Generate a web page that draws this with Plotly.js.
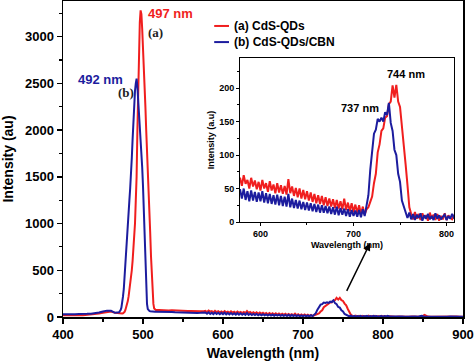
<!DOCTYPE html>
<html>
<head>
<meta charset="utf-8">
<script src="https://cdn.plot.ly/plotly-3.0.1.min.js"></script>
<style>
  html, body { margin: 0; padding: 0; background: #fff; }
  #chart { width: 474px; height: 361px; }
</style>
</head>
<body>
<div id="chart"></div>
<script>
// Wavelength (nm) sample positions
const wavelength = [
  400,405,410,415,420,425,430,435,440,445,450,455,460,465,470,
  471,472,473,474,475,476,477,478,479,480,481,482,483,484,485,486,487,488,489,490,
  491,492,493,494,495,496,497,498,499,500,501,502,503,504,505,506,507,508,509,510,
  511,512,513,514,515,
  516,520,524,528,532,536,540,544,548,552,556,560,564,568,572,576,
  578,580,582,584,586,588,590,592,594,596,598,600,602,604,606,608,610,612,614,616,
  618,620,622,624,626,628,630,632,634,636,638,640,642,644,646,648,650,652,654,656,
  658,660,662,664,666,668,670,672,674,676,678,680,682,684,686,688,690,692,694,696,
  698,700,702,704,706,708,710,712,714,
  716,718,720,722,724,726,728,730,732,734,736,738,740,742,744,746,748,750,752,754,
  756,758,760,762,764,766,768,770,772,774,776,778,780,782,784,786,788,790,792,794,
  796,798,800,802,804,806,808,
  812,816,820,824,828,832,836,840,844,848,852,856,860,864,868,872,876,880,884,888,
  892,896,900
];

// (a) CdS-QDs intensity (au)
const cdsQDs = [
  18,20,17,20,22,20,24,26,30,38,46,55,58,45,38,
  36,35,36,38,40,45,55,75,100,130,170,220,280,350,420,500,600,720,850,1000,
  1250,1500,2000,2500,2850,3150,3280,3240,3080,2900,2700,2500,2250,2000,1800,1600,1450,1200,900,650,
  450,260,140,90,75,
  74,76,72,74,70,71,68,69,66,67,64,65,62,63,61,62,
  66,54,70,57,63,50,66,53,62,49,60,47,63,50,58,45,61,47,56,43,
  58,44,55,42,54,41,64,43,53,39,51,37,50,35,48,34,46,32,44,30,
  42,28,40,27,39,25,37,24,35,23,34,21,33,20,31,19,35,18,29,16,
  28,15,26,14,25,12,23,11,19,
  22,30,38,58,72,104,116,136,140,156,158,176,180,204,186,205,180,172,144,124,
  86,55,22,12,4,15,5,12,3,13,6,10,2,14,5,11,3,12,2,9,
  4,13,3,10,6,4,9,
  5,4,6,3,5,4,6,3,5,4,22,5,3,4,5,3,4,5,3,4,
  5,3,4
];

// (b) CdS-QDs/CBN intensity (au)
const cdsQDsCBN = [
  30,28,32,30,33,31,34,36,40,48,58,68,66,45,50,
  60,75,100,150,220,300,420,550,680,800,950,1100,1250,1380,1500,1700,1900,2100,2300,2420,
  2500,2550,2460,2330,2200,2050,1900,1750,1600,1400,1150,900,550,280,140,85,70,65,62,60,
  60,58,60,58,57,
  57,58,55,56,53,54,52,50,51,48,49,46,47,44,45,43,
  49,35,50,33,46,31,47,32,45,30,44,31,46,29,43,28,42,27,40,26,
  41,25,39,24,38,23,42,22,35,21,33,20,32,19,30,18,29,17,28,16,
  27,15,26,14,25,14,24,13,23,12,22,11,23,10,21,11,20,9,19,8,
  18,9,17,8,18,7,19,9,22,
  40,78,104,132,138,154,150,156,150,164,160,178,148,136,108,100,72,60,32,22,
  12,6,14,4,12,3,11,6,13,2,10,5,12,4,9,3,13,5,10,4,
  8,11,3,9,5,12,6,
  4,6,3,5,4,6,3,5,4,14,4,3,5,4,3,5,4,3,5,4,
  3,5,4
];

const seriesNames = ['(a) CdS-QDs', '(b) CdS-QDs/CBN'];
const peakLabels = ['497 nm', '492 nm', '744 nm', '737 nm'];

const RED = '#f01e1e';
const BLUE = '#1c1c9e';
const COLORS = [RED, BLUE];
const FONT = 'Liberation Sans, Arial, Helvetica, sans-serif';

const traces = [
  { x: wavelength, y: cdsQDs, name: seriesNames[0], type: 'scatter', mode: 'lines',
    line: { color: RED, width: 2 }, xaxis: 'x', yaxis: 'y' },
  { x: wavelength, y: cdsQDsCBN, name: seriesNames[1], type: 'scatter', mode: 'lines',
    line: { color: BLUE, width: 2 }, xaxis: 'x', yaxis: 'y' },
  { x: wavelength, y: cdsQDs, name: seriesNames[0], type: 'scatter', mode: 'lines',
    line: { color: RED, width: 2 }, xaxis: 'x2', yaxis: 'y2' },
  { x: wavelength, y: cdsQDsCBN, name: seriesNames[1], type: 'scatter', mode: 'lines',
    line: { color: BLUE, width: 2 }, xaxis: 'x2', yaxis: 'y2' }
];

const bold = (size) => ({ family: FONT, size: size, color: '#000', weight: 'bold' });

// Compact legend (short line samples, tight row spacing) drawn in paper space
const legendRowsY = [0.921, 0.870];
const legendShapes = seriesNames.map((n, i) => ({
  type: 'line', xref: 'paper', yref: 'paper',
  x0: 0.378, x1: 0.415, y0: legendRowsY[i], y1: legendRowsY[i],
  line: { color: COLORS[i], width: 2 }
}));
const legendTexts = seriesNames.map((n, i) => ({
  xref: 'paper', yref: 'paper', x: 0.4225, y: legendRowsY[i],
  xanchor: 'left', yanchor: 'middle', text: n, showarrow: false, font: bold(12)
}));

const layout = {
  width: 474, height: 361,
  margin: { l: 63, r: 11, t: 1, b: 44 },
  paper_bgcolor: '#fff', plot_bgcolor: '#fff',
  showlegend: false,
  xaxis: {
    domain: [0, 1], range: [400, 900], dtick: 100, tick0: 400,
    ticks: 'outside', ticklen: 5, tickwidth: 1.5, tickcolor: '#000',
    minor: { dtick: 50, ticks: 'outside', ticklen: 3, tickwidth: 1.2, tickcolor: '#000' },
    showline: true, linewidth: 1.5, linecolor: '#000', mirror: true,
    showgrid: false, zeroline: false,
    tickfont: bold(13),
    title: { text: 'Wavelength (nm)', font: bold(14), standoff: 8 }
  },
  yaxis: {
    domain: [0, 1], range: [0, 3380], dtick: 500, tick0: 0,
    ticks: 'outside', ticklen: 5, tickwidth: 1.5, tickcolor: '#000',
    minor: { dtick: 250, ticks: 'outside', ticklen: 3, tickwidth: 1.2, tickcolor: '#000' },
    showline: true, linewidth: 1.5, linecolor: '#000', mirror: true,
    showgrid: false, zeroline: false,
    tickfont: bold(13),
    title: { text: 'Intensity (au)', font: bold(14), standoff: 8 }
  },
  xaxis2: {
    domain: [0.4425, 0.9775], anchor: 'y2', range: [578, 808], dtick: 100, tick0: 600,
    ticks: 'outside', ticklen: 3, tickwidth: 1, tickcolor: '#000',
    minor: { dtick: 50, ticks: 'outside', ticklen: 2, tickwidth: 1, tickcolor: '#000' },
    showline: true, linewidth: 1, linecolor: '#000', mirror: true,
    showgrid: false, zeroline: false,
    tickfont: bold(9),
    title: { text: 'Wavelength (nm)', font: bold(9), standoff: 3 }
  },
  yaxis2: {
    domain: [0.3006, 0.8196], anchor: 'x2', range: [0, 245], dtick: 50, tick0: 0,
    ticks: 'outside', ticklen: 3, tickwidth: 1, tickcolor: '#000',
    minor: { dtick: 25, ticks: 'outside', ticklen: 2, tickwidth: 1, tickcolor: '#000' },
    showline: true, linewidth: 1, linecolor: '#000', mirror: true,
    showgrid: false, zeroline: false,
    tickfont: bold(9),
    title: { text: 'Intensity (a.u)', font: bold(9), standoff: 3 }
  },
  shapes: legendShapes,
  annotations: legendTexts.concat([
    { xref: 'x', yref: 'y', x: 534, y: 3250, text: peakLabels[0], showarrow: false,
      font: { family: FONT, size: 13, color: RED, weight: 'bold' } },
    { xref: 'x', yref: 'y', x: 516, y: 3043, text: '(a)', showarrow: false,
      font: { family: 'Liberation Serif, Times New Roman, serif', size: 13, color: '#222', weight: 'bold' } },
    { xref: 'x', yref: 'y', x: 447, y: 2540, text: peakLabels[1], showarrow: false,
      font: { family: FONT, size: 13, color: BLUE, weight: 'bold' } },
    { xref: 'x', yref: 'y', x: 479, y: 2400, text: '(b)', showarrow: false,
      font: { family: 'Liberation Serif, Times New Roman, serif', size: 13, color: '#222', weight: 'bold' } },
    { xref: 'x2', yref: 'y2', x: 756, y: 221, text: peakLabels[2], showarrow: false,
      font: { family: FONT, size: 11, color: '#000', weight: 'bold' } },
    { xref: 'x2', yref: 'y2', x: 707, y: 171, text: peakLabels[3], showarrow: false,
      font: { family: FONT, size: 11, color: '#000', weight: 'bold' } },
    { xref: 'x', yref: 'y', x: 783.75, y: 789, axref: 'x', ayref: 'y', ax: 753.75, ay: 264,
      text: '', showarrow: true, arrowhead: 2, arrowsize: 1, arrowwidth: 1.5, arrowcolor: '#000' }
  ])
};

Plotly.newPlot('chart', traces, layout, { displayModeBar: false, staticPlot: true });
</script>
</body>
</html>
